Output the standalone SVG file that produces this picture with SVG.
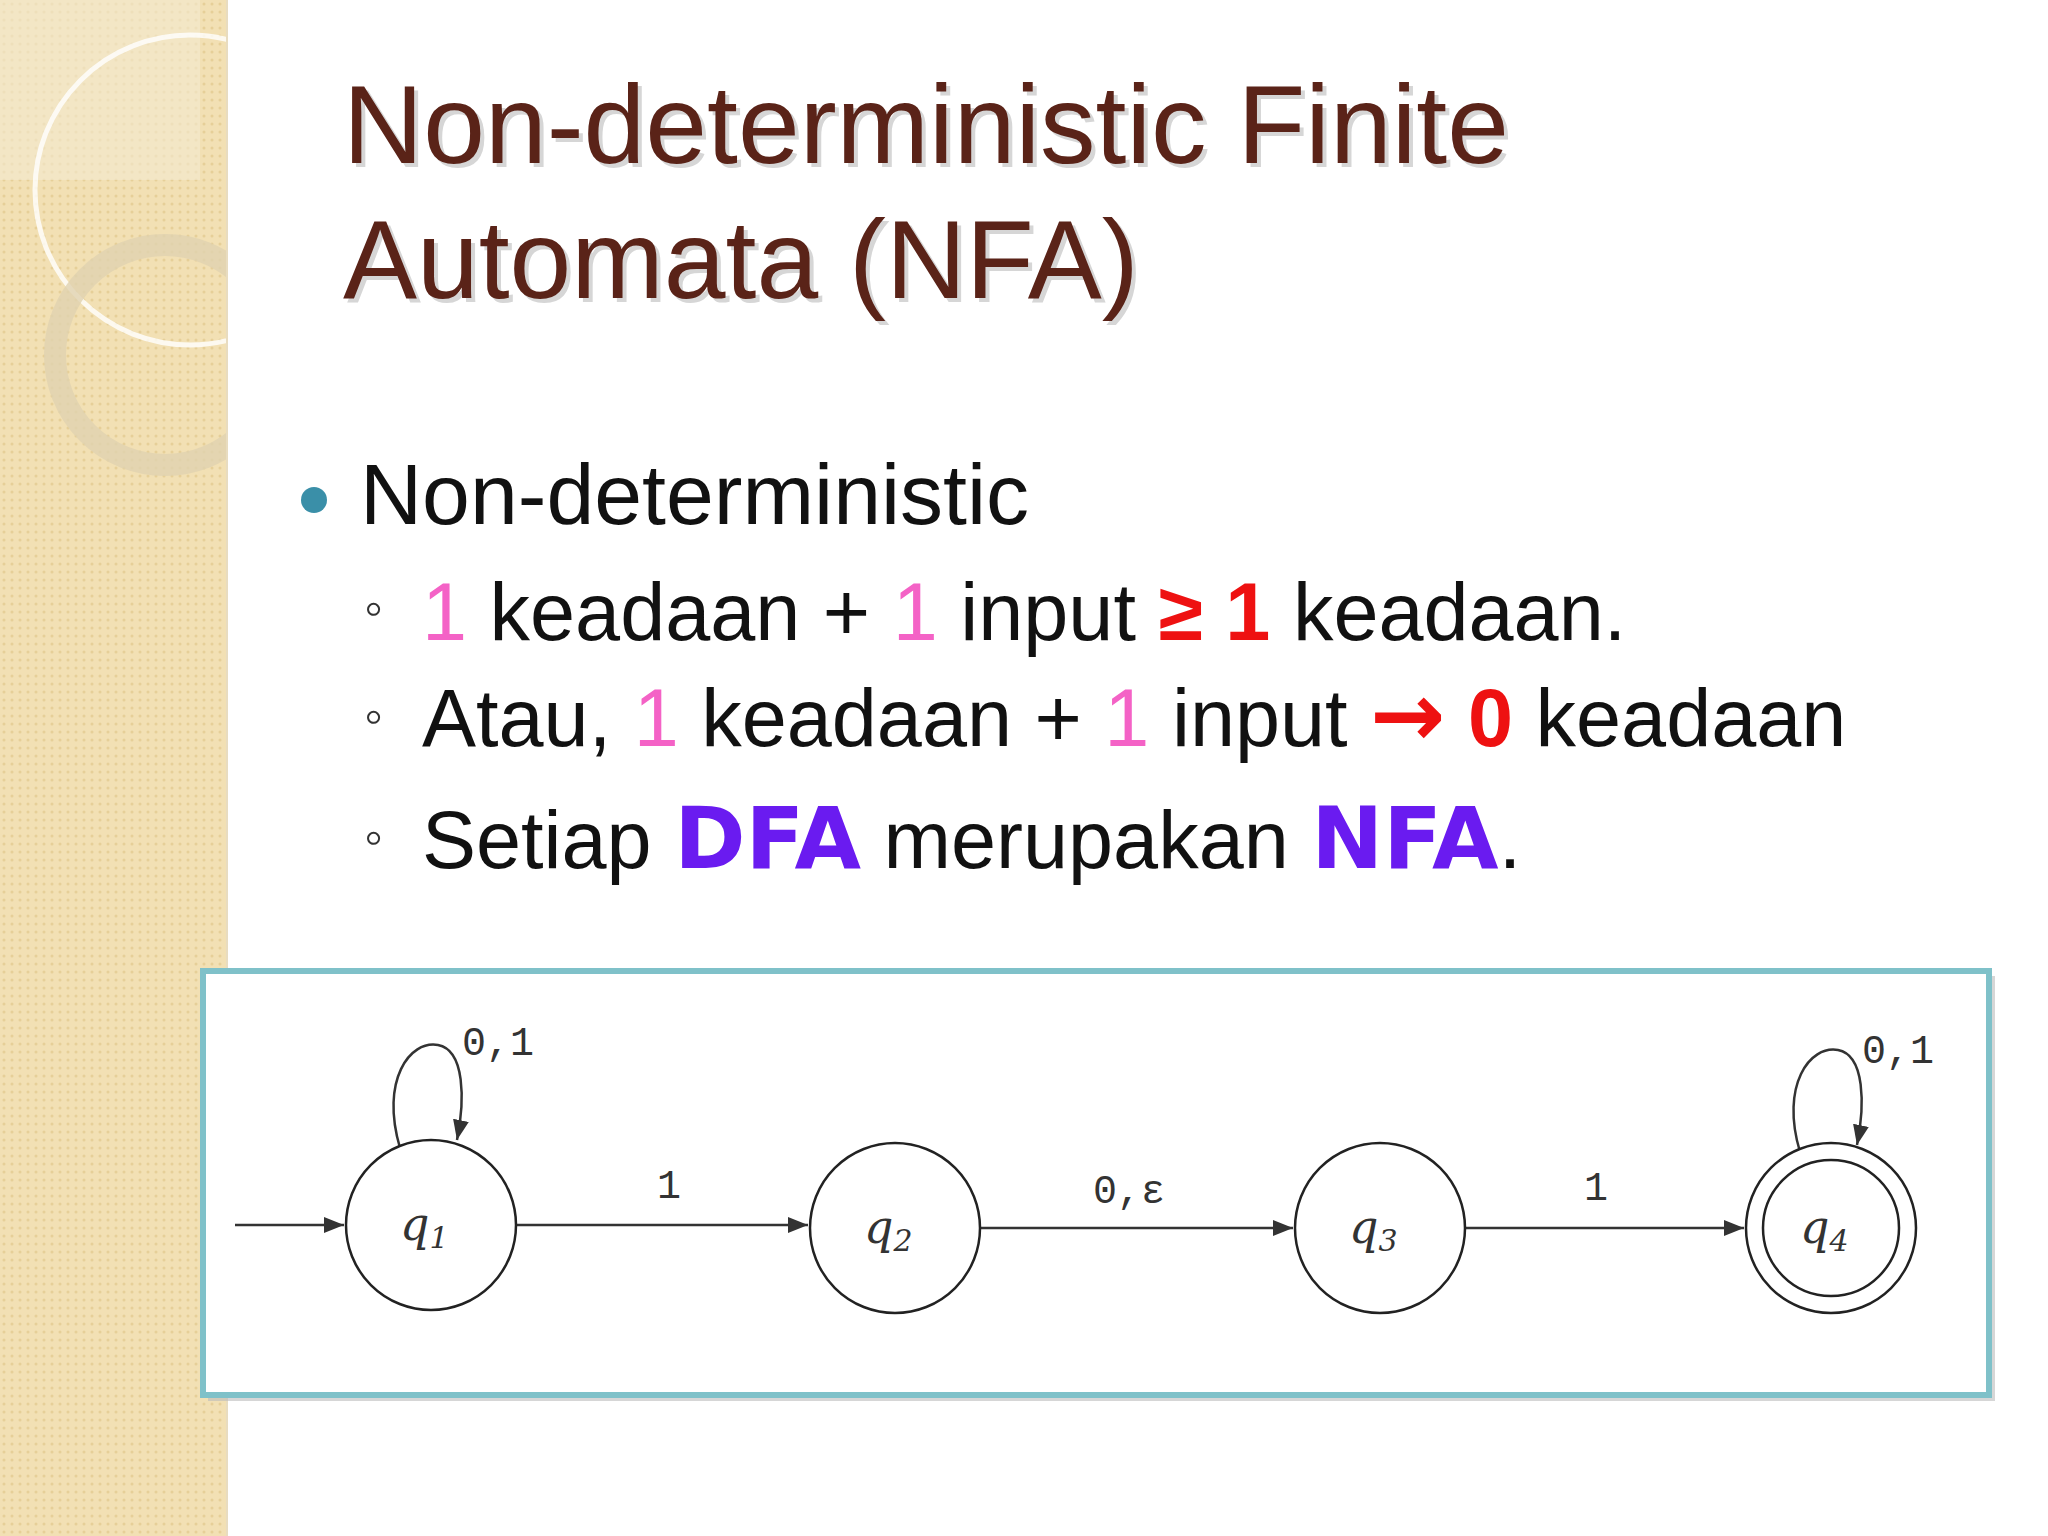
<svg xmlns="http://www.w3.org/2000/svg" width="2048" height="1536" viewBox="0 0 2048 1536">
<defs>
<style>
.t{font-family:"Liberation Sans",Arial,sans-serif}
.st{fill:#fff;stroke:#222;stroke-width:2.5}
.lb{font-family:"DejaVu Serif",serif;font-style:italic;font-size:46px;fill:#333}
.el{font-family:"Liberation Mono",monospace;font-size:40px;fill:#333}
.e{fill:none;stroke:#333;stroke-width:2.5}
.pk{fill:#f462c6}
.rd{fill:#ee1111;font-weight:bold}
.nf{font-family:"DejaVu Sans",sans-serif;font-weight:900;fill:#6a1bf0}
</style>
<marker id="a" viewBox="0 0 10 10" refX="10" refY="5" markerWidth="8" markerHeight="8" orient="auto"><path d="M0,1L10,5L0,9z" fill="#333"/></marker>
<pattern id="p" width="8" height="8" patternUnits="userSpaceOnUse"><rect width="8" height="8" fill="#f2e0b4"/><circle cx="4" cy="4" r="1.5" fill="#e6cf98"/></pattern>
<clipPath id="c"><rect width="226" height="1536"/></clipPath>
</defs>
<rect width="2048" height="1536" fill="#fff"/>
<g clip-path="url(#c)">
<rect width="226" height="1536" fill="url(#p)"/>
<rect x="0" y="0" width="200" height="180" fill="#f4ead0" opacity="0.6"/>
<circle cx="190" cy="190" r="155" fill="none" stroke="#fff" stroke-width="5" opacity="0.8"/>
<circle cx="165" cy="355" r="110" fill="none" stroke="#e0d2b0" stroke-width="22" opacity="0.8"/>
</g>
<line x1="227" y1="0" x2="227" y2="1536" stroke="#e8dcc0" stroke-width="2"/>
<g id="title" class="t" font-size="111" fill="#5a2318">
<text x="347" y="167" fill="#bbb" opacity="0.6">Non-deterministic Finite</text>
<text x="343" y="163">Non-deterministic Finite</text>
<text x="347" y="302" fill="#bbb" opacity="0.6">Automata (NFA)</text>
<text x="343" y="298">Automata (NFA)</text>
</g>
<g id="bullets" class="t" fill="#111">
<circle cx="314" cy="500" r="13" fill="#3a8fa8"/>
<text x="360" y="524" font-size="86">Non-deterministic</text>
<text x="364" y="626" font-size="54" fill="#333">◦</text>
<text x="422" y="640" font-size="81"><tspan class="pk">1</tspan> keadaan + <tspan class="pk">1</tspan> input <tspan class="rd">≥ 1</tspan> keadaan.</text>
<text x="364" y="734" font-size="54" fill="#333">◦</text>
<text x="422" y="746" font-size="81">Atau, <tspan class="pk">1</tspan> keadaan + <tspan class="pk">1</tspan> input <tspan class="rd" font-family="DejaVu Sans,sans-serif" font-size="90">→</tspan> <tspan class="rd">0</tspan> keadaan</text>
<text x="364" y="855" font-size="54" fill="#333">◦</text>
<text x="422" y="868" font-size="81">Setiap <tspan class="nf" font-size="86">DFA</tspan> merupakan <tspan class="nf" font-size="86">NFA</tspan>.</text>
</g>
<rect x="208" y="976" width="1787" height="425" fill="#bbb" opacity="0.6"/>
<rect x="203" y="971" width="1786" height="424" fill="#fff" stroke="#7fc1c9" stroke-width="6"/>
<g id="edges">
<line class="e" x1="235" y1="1225" x2="344" y2="1225" marker-end="url(#a)"/>
<line class="e" x1="517" y1="1225" x2="808" y2="1225" marker-end="url(#a)"/>
<line class="e" x1="981" y1="1228" x2="1293" y2="1228" marker-end="url(#a)"/>
<line class="e" x1="1466" y1="1228" x2="1744" y2="1228" marker-end="url(#a)"/>
<path class="e" d="M400,1148 C380,1080 410,1040 438,1045 C465,1050 465,1100 457,1140" marker-end="url(#a)"/>
<path class="e" d="M1800,1152 C1780,1085 1810,1045 1838,1050 C1865,1055 1865,1105 1857,1145" marker-end="url(#a)"/>
<text class="el" x="462" y="1055">0,1</text>
<text class="el" x="1862" y="1063">0,1</text>
<text class="el" x="657" y="1198">1</text>
<text class="el" x="1093" y="1203">0,ε</text>
<text class="el" x="1584" y="1200">1</text>
</g>
<g id="q1"><circle class="st" cx="431" cy="1225" r="85"/><text class="lb" x="400" y="1240">q<tspan font-size="30" dy="8">1</tspan></text></g>
<g id="q2"><circle class="st" cx="895" cy="1228" r="85"/><text class="lb" x="864" y="1243">q<tspan font-size="30" dy="8">2</tspan></text></g>
<g id="q3"><circle class="st" cx="1380" cy="1228" r="85"/><text class="lb" x="1349" y="1243">q<tspan font-size="30" dy="8">3</tspan></text></g>
<g id="q4"><circle class="st" cx="1831" cy="1228" r="85"/><circle class="st" cx="1831" cy="1228" r="68"/><text class="lb" x="1800" y="1243">q<tspan font-size="30" dy="8">4</tspan></text></g>
</svg>
